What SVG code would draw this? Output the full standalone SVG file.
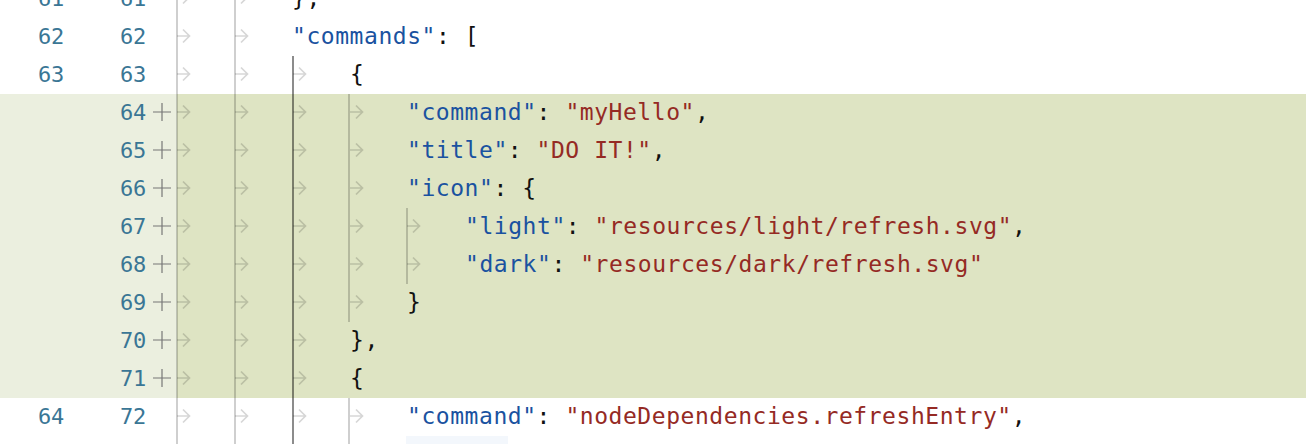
<svg xmlns="http://www.w3.org/2000/svg" width="1306" height="444" viewBox="0 0 1306 444">
<style>
text{font-family:"DejaVu Sans Mono","Liberation Mono",monospace;font-size:23px;letter-spacing:.55px;white-space:pre}
.n{fill:#3a7695;font-size:22px;letter-spacing:-.2px}
.k{fill:#1a52a0}.s{fill:#952a24}.p{fill:#111}
.a{fill:none;stroke:#000;stroke-opacity:.16;stroke-width:1.7}
.g{stroke:#000;stroke-opacity:.19;stroke-width:2}
.d{stroke:#000;stroke-opacity:.45;stroke-width:2}
</style>
<defs>
<g id="t"><path class="a" d="M0 0H12M6-6.500L12.500 0L6 6.500"/></g>
</defs>
<rect width="1306" height="444" fill="#fff"/>
<g id="bands">
<rect x="0" y="94" width="177" height="304" fill="#ebefdf"/>
<rect x="177" y="94" width="1129" height="304" fill="#dee4c3"/>
<rect x="406" y="436" width="102" height="8" fill="#f3f7fc"/>
</g>
<g id="connectors">
<path class="g" d="M177 0V444M235 0V444M349 94V322M349 398V444M407 208V284"/>
<path class="d" d="M293 56V444"/>
</g>
<g id="tabs">
<use href="#t" x="177" y="-3"/><use href="#t" x="235" y="-3"/>
<use href="#t" x="177" y="36"/><use href="#t" x="235" y="36"/>
<use href="#t" x="177" y="74"/><use href="#t" x="235" y="74"/><use href="#t" x="293" y="74"/>
<use href="#t" x="177" y="112"/><use href="#t" x="235" y="112"/><use href="#t" x="293" y="112"/><use href="#t" x="350" y="112"/>
<use href="#t" x="177" y="150"/><use href="#t" x="235" y="150"/><use href="#t" x="293" y="150"/><use href="#t" x="350" y="150"/>
<use href="#t" x="177" y="188"/><use href="#t" x="235" y="188"/><use href="#t" x="293" y="188"/><use href="#t" x="350" y="188"/>
<use href="#t" x="177" y="226"/><use href="#t" x="235" y="226"/><use href="#t" x="293" y="226"/><use href="#t" x="350" y="226"/><use href="#t" x="407" y="226"/>
<use href="#t" x="177" y="264"/><use href="#t" x="235" y="264"/><use href="#t" x="293" y="264"/><use href="#t" x="350" y="264"/><use href="#t" x="407" y="264"/>
<use href="#t" x="177" y="302"/><use href="#t" x="235" y="302"/><use href="#t" x="293" y="302"/><use href="#t" x="350" y="302"/>
<use href="#t" x="177" y="340"/><use href="#t" x="235" y="340"/><use href="#t" x="293" y="340"/>
<use href="#t" x="177" y="378"/><use href="#t" x="235" y="378"/><use href="#t" x="293" y="378"/>
<use href="#t" x="177" y="416"/><use href="#t" x="235" y="416"/><use href="#t" x="293" y="416"/><use href="#t" x="350" y="416"/>
</g>
<g id="numbers">
<text class="n" x="38" y="6">61</text><text class="n" x="120" y="6">61</text>
<text class="n" x="38" y="44">62</text><text class="n" x="120" y="44">62</text>
<text class="n" x="38" y="82">63</text><text class="n" x="120" y="82">63</text>
<text class="n" x="120" y="120">64</text>
<text class="n" x="120" y="158">65</text>
<text class="n" x="120" y="196">66</text>
<text class="n" x="120" y="234">67</text>
<text class="n" x="120" y="272">68</text>
<text class="n" x="120" y="310">69</text>
<text class="n" x="120" y="348">70</text>
<text class="n" x="120" y="386">71</text>
<text class="n" x="38" y="424">64</text><text class="n" x="120" y="424">72</text>
</g>
<g id="plus">
<path stroke="#777" stroke-width="1.200" fill="none" d="M153 112H171M162 103V121M153 150H171M162 141V159M153 188H171M162 179V197M153 226H171M162 217V235M153 264H171M162 255V273M153 302H171M162 293V311M153 340H171M162 331V349M153 378H171M162 369V387"/>
</g>
<g id="code">
<text class="p" x="292" y="6">},</text>
<text x="292" y="44"><tspan class="k">"commands"</tspan><tspan class="p">: [</tspan></text>
<text class="p" x="350" y="82">{</text>
<text x="407" y="120"><tspan class="k">"command"</tspan><tspan class="p">: </tspan><tspan class="s">"myHello"</tspan><tspan class="p">,</tspan></text>
<text x="407" y="158"><tspan class="k">"title"</tspan><tspan class="p">: </tspan><tspan class="s">"DO IT!"</tspan><tspan class="p">,</tspan></text>
<text x="407" y="196"><tspan class="k">"icon"</tspan><tspan class="p">: {</tspan></text>
<text x="465" y="234"><tspan class="k">"light"</tspan><tspan class="p">: </tspan><tspan class="s">"resources/light/refresh.svg"</tspan><tspan class="p">,</tspan></text>
<text x="465" y="272"><tspan class="k">"dark"</tspan><tspan class="p">: </tspan><tspan class="s">"resources/dark/refresh.svg"</tspan></text>
<text class="p" x="407" y="310">}</text>
<text class="p" x="350" y="348">},</text>
<text class="p" x="350" y="386">{</text>
<text x="407" y="424"><tspan class="k">"command"</tspan><tspan class="p">: </tspan><tspan class="s">"nodeDependencies.refreshEntry"</tspan><tspan class="p">,</tspan></text>
</g>
</svg>
